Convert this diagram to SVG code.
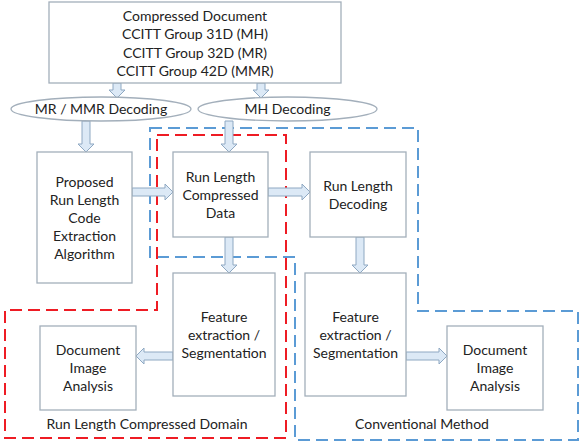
<svg xmlns="http://www.w3.org/2000/svg" width="582" height="444" viewBox="0 0 582 444">
<style>
.box{fill:#fff;stroke:#a3afbb;stroke-width:1.3}
.t{font-family:Lato,"Open Sans","Liberation Sans",sans-serif;font-size:14px;fill:#222;text-anchor:middle}
.arr{fill:#dce9f6;stroke:#8ea8c2;stroke-width:1}
.blue{fill:none;stroke:#5b9bd5;stroke-width:2;stroke-dasharray:12,6}
.red{fill:none;stroke:#ee1c24;stroke-width:2;stroke-dasharray:12,6}
</style>
<rect width="582" height="444" fill="#fff"/>
<g id="regions">
<path class="blue" d="M150,128 H418 V311 H578 V440 H295 V257 H150 Z"/>
<path class="red" d="M157,135 H286 V438 H5 V310 H157 Z"/>
</g>
<g id="connectors">
<path class="arr" d="M113,83 H121 V90 H125 L117,98 L109,90 H113 Z"/>
<path class="arr" d="M257,83 H265 V90 H269 L261,98 L253,90 H257 Z"/>
<path class="arr" d="M82,121 H90 V144 H94 L86,152 L78,144 H82 Z"/>
<path class="arr" d="M225,121 H233 V144 H237 L229,152 L221,144 H225 Z"/>
<path class="arr" d="M132,188 V196 H165 V200 L173,192 L165,184 V188 Z"/>
<path class="arr" d="M268,188 V196 H302 V200 L310,192 L302,184 V188 Z"/>
<path class="arr" d="M225,237 H233 V265 H237 L229,273 L221,265 H225 Z"/>
<path class="arr" d="M356,237 H364 V265 H368 L360,273 L352,265 H356 Z"/>
<path class="arr" d="M173,352 V360 H144 V364 L136,356 L144,348 V352 Z"/>
<path class="arr" d="M406,352 V360 H439 V364 L447,356 L439,348 V352 Z"/>
</g>
<g id="doc">
<rect class="box" x="49" y="2" width="292" height="81"/>
<text class="t" x="195" y="21">Compressed Document</text>
<text class="t" x="195" y="39">CCITT Group 31D (MH)</text>
<text class="t" x="195" y="58">CCITT Group 32D (MR)</text>
<text class="t" x="195" y="76">CCITT Group 42D (MMR)</text>
</g>
<g id="mrdec">
<ellipse class="box" cx="101" cy="109" rx="90" ry="12"/>
<text class="t" x="101" y="114">MR / MMR Decoding</text>
</g>
<g id="mhdec">
<ellipse class="box" cx="287.5" cy="109" rx="89.5" ry="12"/>
<text class="t" x="287.5" y="114">MH Decoding</text>
</g>
<g id="proposed">
<rect class="box" x="37" y="152" width="95" height="131"/>
<text class="t" x="84.5" y="187">Proposed</text>
<text class="t" x="84.5" y="205">Run Length</text>
<text class="t" x="84.5" y="223">Code</text>
<text class="t" x="84.5" y="241">Extraction</text>
<text class="t" x="84.5" y="259">Algorithm</text>
</g>
<g id="rlcd">
<rect class="box" x="173" y="152" width="95" height="85"/>
<text class="t" x="220.5" y="182">Run Length</text>
<text class="t" x="220.5" y="200">Compressed</text>
<text class="t" x="220.5" y="218">Data</text>
</g>
<g id="rld">
<rect class="box" x="310" y="152" width="96" height="85"/>
<text class="t" x="358" y="191">Run Length</text>
<text class="t" x="358" y="209">Decoding</text>
</g>
<g id="featL">
<rect class="box" x="173" y="273" width="102" height="123"/>
<text class="t" x="224" y="322">Feature</text>
<text class="t" x="224" y="340">extraction /</text>
<text class="t" x="224" y="358">Segmentation</text>
</g>
<g id="featR">
<rect class="box" x="305" y="273" width="101" height="123"/>
<text class="t" x="355.5" y="322">Feature</text>
<text class="t" x="355.5" y="340">extraction /</text>
<text class="t" x="355.5" y="358">Segmentation</text>
</g>
<g id="diaL">
<rect class="box" x="40" y="326" width="96" height="84"/>
<text class="t" x="88" y="355">Document</text>
<text class="t" x="88" y="373">Image</text>
<text class="t" x="88" y="391">Analysis</text>
</g>
<g id="diaR">
<rect class="box" x="447" y="326" width="96" height="84"/>
<text class="t" x="495" y="355">Document</text>
<text class="t" x="495" y="373">Image</text>
<text class="t" x="495" y="391">Analysis</text>
</g>
<g id="labels">
<text class="t" x="147" y="429">Run Length Compressed Domain</text>
<text class="t" x="422" y="429">Conventional Method</text>
</g>
</svg>
